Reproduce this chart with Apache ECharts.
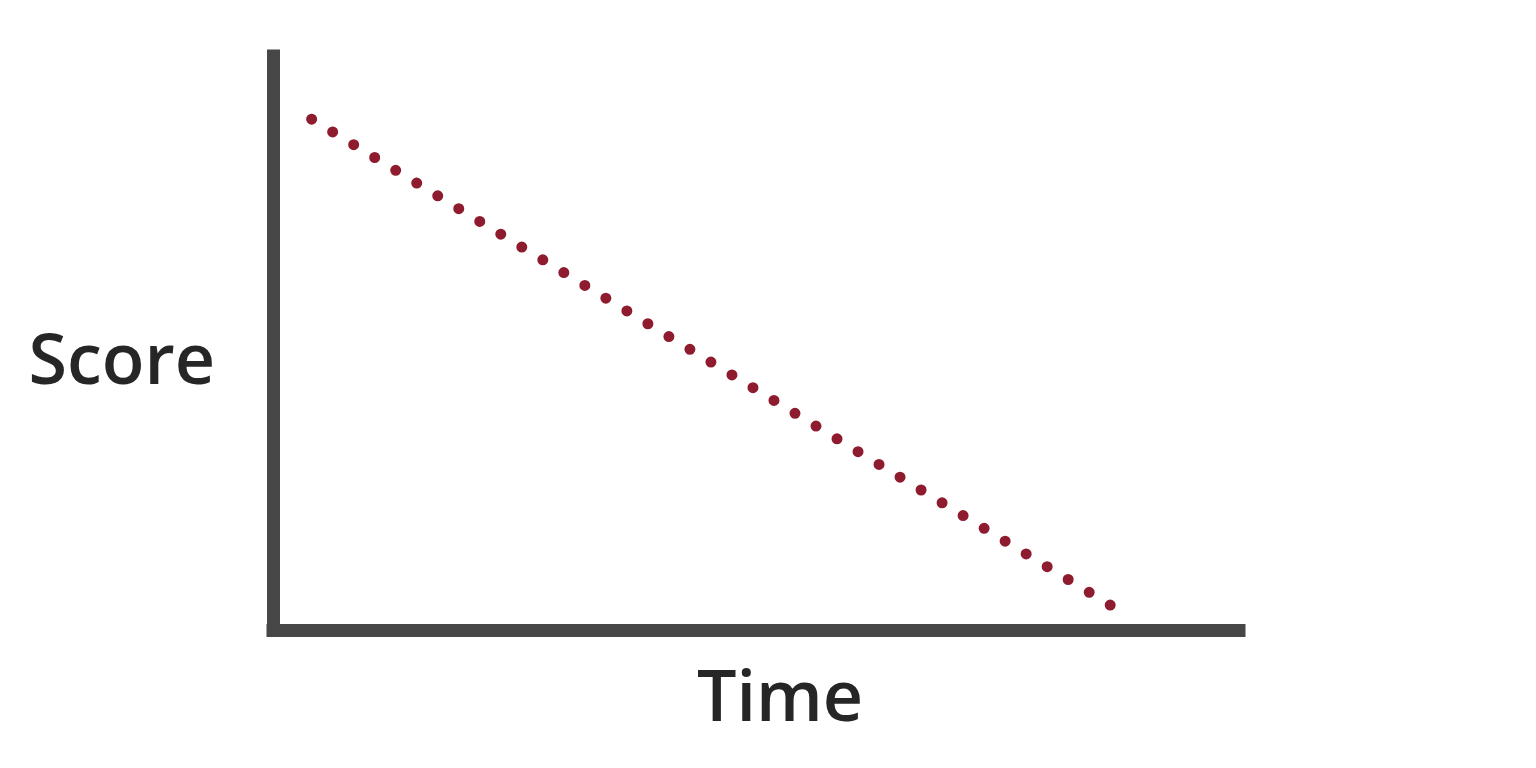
<!DOCTYPE html>
<html>
<head>
<meta charset="utf-8">
<script src="https://cdn.jsdelivr.net/npm/echarts@6/dist/echarts.min.js"></script>
<style>
html,body{margin:0;padding:0;background:#fff;}
#chart{width:1536px;height:768px;}
</style>
</head>
<body>
<div id="chart"></div>
<script>
// Data
const xName = 'Time';
const yName = 'Score';
const trendX = [4, 87];
const trendY = [89, 4];

const chart = echarts.init(document.getElementById('chart'));
const axisColor = '#474747';
const textStyle = {
  fontFamily: 'Open Sans',
  fontSize: 70,
  fontWeight: 600,
  color: '#262626'
};
chart.setOption({
  animation: false,
  grid: { left: 273, right: 297, top: 56, bottom: 138 },
  xAxis: {
    type: 'value', min: 0, max: 100,
    name: xName, nameLocation: 'middle', nameGap: 36,
    nameTextStyle: Object.assign({}, textStyle, { padding: [0, 0, 0, 48] }),
    axisLine: { show: true, lineStyle: { color: axisColor, width: 13, cap: 'square' } },
    axisTick: { show: false }, axisLabel: { show: false }, splitLine: { show: false }
  },
  yAxis: {
    type: 'value', min: 0, max: 100,
    name: yName, nameLocation: 'middle', nameGap: 58, nameRotate: 0,
    nameTextStyle: Object.assign({}, textStyle, { verticalAlign: 'top', lineHeight: 42 }),
    axisLine: { show: true, lineStyle: { color: axisColor, width: 13, cap: 'square' } },
    axisTick: { show: false }, axisLabel: { show: false }, splitLine: { show: false }
  },
  series: [{
    type: 'line',
    data: trendX.map((x, i) => [x, trendY[i]]),
    symbol: 'none',
    lineStyle: { color: '#8e1b2e', width: 11, type: [0, 24.6], cap: 'round' }
  }]
});
</script>
</body>
</html>
